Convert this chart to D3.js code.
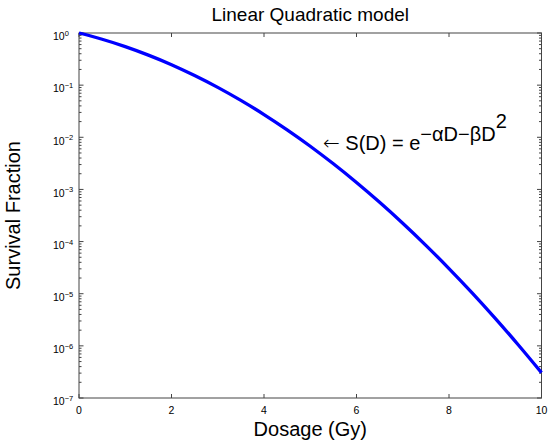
<!DOCTYPE html>
<html>
<head>
<meta charset="utf-8">
<script src="https://cdn.jsdelivr.net/npm/d3@7"></script>
<style>
  body { margin: 0; background: #fff; }
  text { font-family: "Liberation Sans", Arial, sans-serif; fill: #000; }
</style>
</head>
<body>
<div id="chart"></div>
<script>
// values
const dose = [0, 0.5, 1, 1.5, 2, 2.5, 3, 3.5, 4, 4.5, 5, 5.5, 6, 6.5, 7, 7.5, 8, 8.5, 9, 9.5, 10];
const survival = [1, 0.76, 0.549, 0.377, 0.247, 0.153, 0.0907, 0.051, 0.0273, 0.0139, 0.00674,
  0.0031, 0.00136, 5.67e-4, 2.25e-4, 8.48e-5, 3.04e-5, 1.04e-5, 3.37e-6, 1.04e-6, 3.06e-7];
const xTicks = [0, 2, 4, 6, 8, 10];
const yExponents = [0, -1, -2, -3, -4, -5, -6, -7];

const width = 550;
const height = 444;
const mLeft = 79, mRight = 541.5, mTop = 33, mBottom = 398;

const svg = d3.select('#chart')
  .append('svg')
  .attr('width', width)
  .attr('height', height);

const x = d3.scaleLinear().domain([0, 10]).range([mLeft, mRight]);
const y = d3.scaleLog().domain([1e-7, 1]).range([mBottom, mTop]);

const axisColor = '#444';
const allY = y.ticks();
const isMajor = v => Math.abs(Math.log10(v) - Math.round(Math.log10(v))) < 1e-9;

// box
svg.append('rect')
  .attr('x', mLeft).attr('y', mTop)
  .attr('width', mRight - mLeft).attr('height', mBottom - mTop)
  .attr('fill', 'none')
  .attr('stroke', axisColor)
  .attr('stroke-width', 1);

// x ticks (bottom + top, inward)
[[mBottom, -4], [mTop, 4]].forEach(([yy, len]) => {
  svg.selectAll(null)
    .data(xTicks)
    .enter().append('line')
    .attr('x1', d => x(d)).attr('x2', d => x(d))
    .attr('y1', yy).attr('y2', yy + len)
    .attr('stroke', axisColor);
});

// y ticks (left + right, inward), majors longer
[[mLeft, 1], [mRight, -1]].forEach(([xx, dir]) => {
  svg.selectAll(null)
    .data(allY)
    .enter().append('line')
    .attr('x1', xx).attr('x2', d => xx + dir * (isMajor(d) ? 4.5 : 2.5))
    .attr('y1', d => y(d)).attr('y2', d => y(d))
    .attr('stroke', axisColor);
});

// x tick labels
svg.selectAll(null)
  .data(xTicks)
  .enter().append('text')
  .attr('x', d => x(d))
  .attr('y', mBottom + 15.5)
  .attr('text-anchor', 'middle')
  .attr('font-size', 10.5)
  .text(d => d);

// y tick labels 10^k
const yl = svg.selectAll(null)
  .data(yExponents)
  .enter().append('text')
  .attr('x', 53)
  .attr('y', d => y(Math.pow(10, d)) + 7.3)
  .attr('font-size', 10.5);
yl.append('tspan').text('10');
yl.append('tspan')
  .attr('dy', -4.3)
  .attr('font-size', 7.5)
  .text(d => d === 0 ? '0' : '\u2212' + Math.abs(d));

// curve
const line = d3.line()
  .x((d, i) => x(dose[i]))
  .y(d => y(d))
  .curve(d3.curveMonotoneX);

svg.append('path')
  .datum(survival)
  .attr('fill', 'none')
  .attr('stroke', '#0000ff')
  .attr('stroke-width', 3.3)
  .attr('d', line);

// title and labels
svg.append('text')
  .attr('x', (mLeft + mRight) / 2)
  .attr('y', 21)
  .attr('text-anchor', 'middle')
  .attr('font-size', 19)
  .text('Linear Quadratic model');

svg.append('text')
  .attr('x', (mLeft + mRight) / 2)
  .attr('y', 436)
  .attr('text-anchor', 'middle')
  .attr('font-size', 20)
  .text('Dosage (Gy)');

svg.append('text')
  .attr('transform', `translate(20,${(mTop + mBottom) / 2}) rotate(-90)`)
  .attr('text-anchor', 'middle')
  .attr('font-size', 20)
  .text('Survival Fraction');

// annotation
const ann = svg.append('text')
  .attr('x', 323)
  .attr('y', 150)
  .attr('font-size', 20);
ann.append('tspan')
  .style('font-family', '"DejaVu Sans"')
  .attr('font-weight', 300)
  .text('\u2190');
ann.append('tspan').text(' S(D) = e');
ann.append('tspan').attr('dy', -9).text('\u2212\u03b1D\u2212\u03b2D');
ann.append('tspan').attr('dy', -13).text('2');
</script>
</body>
</html>
